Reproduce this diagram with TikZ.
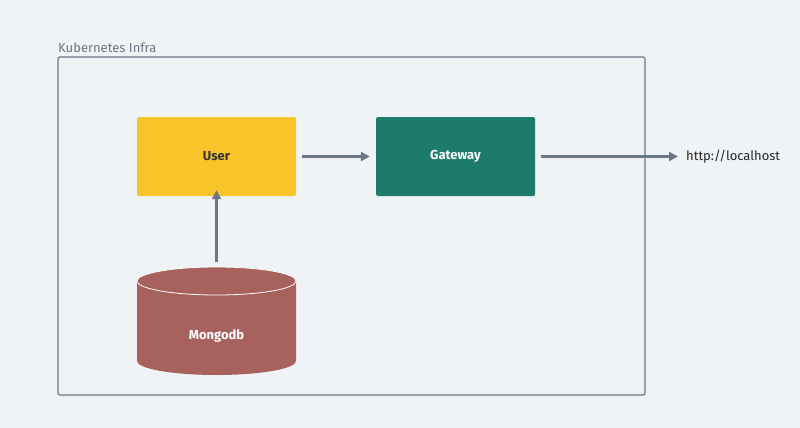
\documentclass[tikz,border=0pt]{standalone}
\usepackage{fontspec}
\setmainfont{Fira Sans}
\usetikzlibrary{arrows.meta}
\definecolor{bg}{HTML}{F0F3F6}
\definecolor{edge}{HTML}{6B7785}
\definecolor{usr}{HTML}{F8C42A}
\definecolor{gw}{HTML}{1E7A6A}
\definecolor{mg}{HTML}{A8625E}
\begin{document}
\begin{tikzpicture}[x=1pt,y=-1pt,
  box/.style={draw=none,minimum width=159pt,minimum height=79pt,rounded corners=1.5pt,inner sep=0pt,font=\fontsize{13}{15}\selectfont\bfseries},
  conn/.style={draw=edge,line width=2.6pt,-{Triangle[length=9pt,width=9pt]}}]
\useasboundingbox[fill=bg] (0,0) rectangle (800,428);
\draw[edge,line width=1.2pt,rounded corners=2pt] (58,57) rectangle (645,395);
\node[anchor=south west,text=edge,font=\fontsize{13}{15}\selectfont,inner sep=0pt] (lbl) at (58,53) {Kubernetes Infra};
\node[box,fill=usr,text=black!80] (user) at (216.5,156.5) {User};
\node[box,fill=gw,text=white] (gw) at (455.5,156.5) {Gateway};
% cylinder
\fill[mg] (137,281) -- (137,361) arc[start angle=180,end angle=0,x radius=79.5,y radius=14] -- (296,281) arc[start angle=0,end angle=-180,x radius=79.5,y radius=14] -- cycle;
\draw[white,line width=0.8pt,fill=mg] (216.5,281) ellipse[x radius=79.5,y radius=14];
\node[text=white,font=\fontsize{13}{15}\selectfont\bfseries] (mongo) at (216.5,336) {Mongodb};
\coordinate (mtop) at (216.5,262);
\node[anchor=west,inner sep=0pt,font=\fontsize{13}{15}\selectfont,text=black!85] (url) at (686,156.5) {http://localhost};
\draw[conn] ([xshift=6pt]user.east) -- ([xshift=-6pt]gw.west);
\draw[conn] ([xshift=6pt]gw.east) -- ([xshift=-8pt]gw.east -| url.west);
\draw[conn] (mtop) -- ([yshift=6pt]user.south);
\end{tikzpicture}
\end{document}
